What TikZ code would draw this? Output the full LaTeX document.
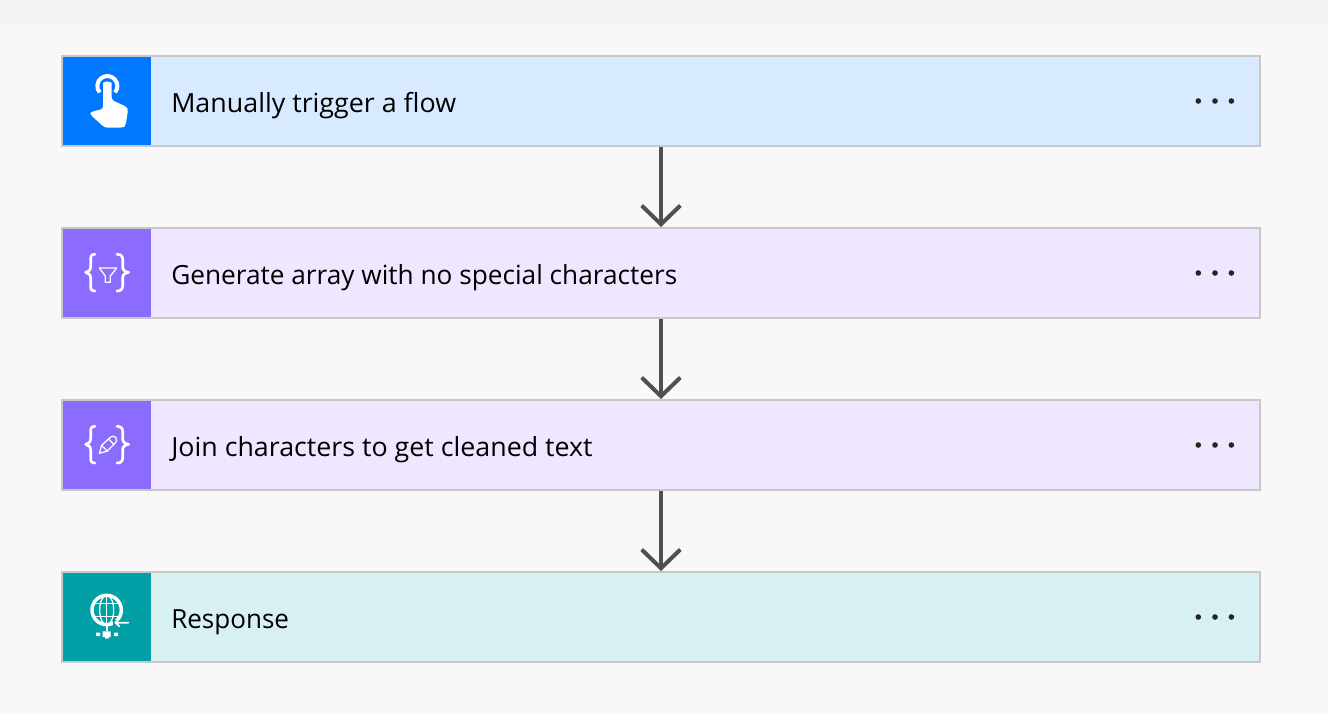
\documentclass[tikz,border=0pt]{standalone}
\usepackage{fontspec}
\setmainfont{Open Sans}
\usetikzlibrary{arrows.meta}
\definecolor{pagebg}{HTML}{F8F8F8}
\definecolor{topband}{HTML}{F3F3F3}
\definecolor{edgegray}{HTML}{C8C8C8}
\definecolor{arrowgray}{HTML}{505050}
\definecolor{dotcol}{HTML}{2B2320}
\definecolor{bluebg}{HTML}{D8EAFF}
\definecolor{blueic}{HTML}{0078FF}
\definecolor{purplebg}{HTML}{EEE7FF}
\definecolor{purpleic}{HTML}{8C6CFF}
\definecolor{tealbg}{HTML}{D8F0F2}
\definecolor{tealic}{HTML}{00A0A6}
\tikzset{
  card/.style={draw=edgegray,line width=1.5pt,minimum width=898.5pt,minimum height=67.5pt,inner sep=0pt},
  iconbox/.style={draw=none,minimum width=66pt,minimum height=66pt,inner sep=0pt,outer sep=0pt},
  label/.style={anchor=base west,inner sep=0pt,font=\fontsize{19.8pt}{23pt}\selectfont,text=black},
  flowarrow/.style={draw=arrowgray,line width=3pt,-{Straight Barb[length=14pt,width=29pt,line width=3pt]}},
  menudot/.style={circle,fill=dotcol,draw=none,minimum size=4.2pt,inner sep=0pt},
  zoomed/.style={x=0.25pt,y=-0.25pt},
  iconline/.style={draw=white,line cap=round,line join=round,fill=none},
}
\newcommand{\bracepair}{%
  \draw[iconline,line width=2pt] (135,103) .. controls (124,103) and (122,108) .. (122,118) -- (122,140) .. controls (122,150) and (116,155) .. (107,157) .. controls (116,159) and (122,164) .. (122,174) -- (122,198) .. controls (122,208) and (124,213) .. (135,213);
  \draw[iconline,line width=2pt] (201,103) .. controls (212,103) and (218,108) .. (218,118) -- (218,140) .. controls (218,150) and (224,155) .. (236,157) .. controls (224,159) and (218,164) .. (218,174) -- (218,198) .. controls (218,208) and (212,213) .. (201,213);
}
\begin{document}
\begin{tikzpicture}[x=0.75pt,y=-0.75pt]
\useasboundingbox (0,0) rectangle (1328,714);
\fill[pagebg] (0,0) rectangle (1328,714);
\fill[topband] (0,0) rectangle (1328,23);

\node[card,fill=bluebg] (c1) at (661,101) {};
\node[card,fill=purplebg] (c2) at (661,273) {};
\node[card,fill=purplebg] (c3) at (661,445) {};
\node[card,fill=tealbg] (c4) at (661,617) {};

\node[iconbox,fill=blueic] (i1) at (107,101) {};
\node[iconbox,fill=purpleic] (i2) at (107,273) {};
\node[iconbox,fill=purpleic] (i3) at (107,445) {};
\node[iconbox,fill=tealic] (i4) at (107,617) {};

\node[label] (t1) at (171,112) {\scalebox{1.016}[1]{Manually trigger a flow}};
\node[label] (t2) at (171,284) {\scalebox{0.993}[1]{Generate array with no special characters}};
\node[label] (t3) at (171,456) {\scalebox{1.015}[1]{Join characters to get cleaned text}};
\node[label] (t4) at (171,628) {\scalebox{0.986}[1]{Response}};

\foreach \yy [count=\n] in {101,273,445,617}{
  \node[menudot] (d\n a) at (1198.3,\yy) {};
  \node[menudot] (d\n b) at (1215,\yy) {};
  \node[menudot] (d\n c) at (1231.4,\yy) {};
}

\draw[flowarrow] (c1) -- (c2);
\draw[flowarrow] (c2) -- (c3);
\draw[flowarrow] (c3) -- (c4);

% touch icon
\begin{scope}[shift={(50,45)},zoomed]
  \draw[white,line width=3pt] (172,123) ++(140:30) arc[start angle=140,end angle=400,radius=30];
  \fill[white,rounded corners=2pt] (159,122) arc[start angle=180,end angle=360,radius=13] -- (185,165) -- (229,185) -- (234,195) -- (227,241) -- (219,248) -- (164,248) -- (120,208) -- (124,200) -- (159,192) -- cycle;
\end{scope}
% filter icon
\begin{scope}[shift={(50,220)},zoomed]
  \bracepair
  \draw[iconline,line width=0.95pt] (148,144) -- (200,144) -- (181,168) -- (181,187) -- (166,187) -- (166,168) -- cycle;
\end{scope}
% pencil icon
\begin{scope}[shift={(50,392)},zoomed]
  \bracepair
  \draw[iconline,line width=0.95pt] (148,184) -- (155,160) -- (182,135) .. controls (188,130) and (195,132) .. (198,138) .. controls (201,144) and (200,149) .. (196,153) -- (172,177) -- cycle;
  \draw[iconline,line width=0.95pt] (155,160) -- (172,177) (176,141) -- (191,157);
\end{scope}
% globe icon
\begin{scope}[shift={(50,565)},zoomed]
  \draw[white,line width=2.6pt] (170,135) circle[radius=44];
  \draw[white,line width=0.9pt] (170,135) ellipse[x radius=21,y radius=44];
  \draw[white,line width=0.7pt] (170,91) -- (170,179) (132,116) -- (208,116) (132,154) -- (208,154);
  \draw[tealic,line width=4pt] (190,173) -- (240,173);
  \draw[white,line width=1.6pt] (170,179) -- (170,198);
  \fill[white] (138,203) rectangle (150,213) (158,199) rectangle (182,216) (192,203) rectangle (204,213) (165,216) rectangle (176,221);
  \draw[iconline,line width=1.3pt] (235,173) -- (196,173) (208,162) -- (196,173) -- (208,184);
\end{scope}
\end{tikzpicture}
\end{document}
